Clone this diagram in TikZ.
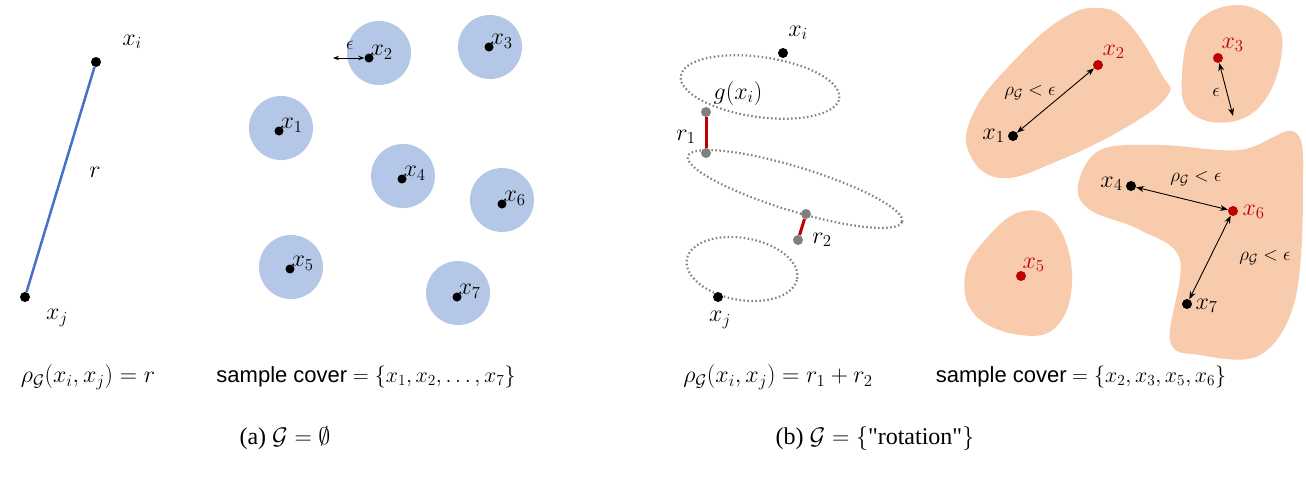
\documentclass[tikz,border=0pt]{standalone}
\usepackage{fix-cm}
\usepackage{fontspec}
\setmainfont{Liberation Serif}
\newfontfamily\sans{Liberation Sans}
\usetikzlibrary{arrows.meta}
\definecolor{cblue}{RGB}{180,199,231}
\definecolor{lblue}{RGB}{68,114,196}
\definecolor{peach}{RGB}{248,203,173}
\definecolor{dred}{RGB}{192,0,0}
\tikzset{
  dot/.style={circle,fill=black,inner sep=0pt,minimum size=10pt},
  rdot/.style={circle,fill=dred,inner sep=0pt,minimum size=10pt},
  gdot/.style={circle,fill=gray,inner sep=0pt,minimum size=10pt},
  ball/.style={circle,fill=cblue,inner sep=0pt,minimum size=64pt},
  lbl/.style={font=\fontsize{24}{28}\selectfont},
  sm/.style={font=\fontsize{19}{22}\selectfont},
  dots/.style={gray,line width=2.2pt,dash pattern=on 1.5pt off 2.5pt},
  da/.style={{Stealth[length=8pt]}-{Stealth[length=8pt]},line width=0.9pt},
  blob/.style={fill=peach},
  txt/.style={font=\fontsize{24}{28}\selectfont},
  stxt/.style={font=\fontsize{22}{26}\selectfont}
}
\begin{document}
\begin{tikzpicture}[x=1pt,y=-1pt]
\useasboundingbox (0,0) rectangle (1306,482);
% left
\node[dot] (xi) at (96,62) {};
\node[dot] (xj) at (25,297) {};
\draw[lblue,line width=2.5pt] (xi) -- (xj);
\node[lbl] (lxi) at (132,42) {$x_i$};
\node[lbl] (lxj) at (57,318) {$x_j$};
\node[lbl] (lr) at (95,172) {$r$};
% balls
\foreach \n/\cx/\cy/\dx/\dy in {1/281/128/279/131, 2/379/53/369/58, 3/490/47/489/47, 4/403/176/402/179, 5/291/267/290/269, 6/502/200/502/204, 7/458/293/457/297}{
  \node[ball] (b\n) at (\cx,\cy) {};
  \node[dot,minimum size=9pt] (p\n) at (\dx,\dy) {};
  \node[lbl,anchor=south west,inner sep=1pt] (l\n) at ([xshift=-3pt,yshift=-6pt]p\n.north east) {$x_{\n}$};
}
\coordinate (ea) at (333,58);
\draw[da,{Stealth[length=6pt]}-{Stealth[length=6pt]}] (ea) -- (p2.west);
\node[sm] (le) at (350,45) {$\epsilon$};
% middle ellipses
\draw[dots,rotate around={-8:(760,87)}] (760,87) ellipse (80pt and 30pt);
\draw[dots,rotate around={-17:(795,189)}] (795,189) ellipse (112pt and 22pt);
\draw[dots,rotate around={-10:(742,269)}] (742,269) ellipse (56pt and 31pt);
\node[dot] (mxi) at (783,53) {};
\node[gdot] (g1) at (706,112) {};
\node[gdot] (g2) at (706,153) {};
\node[gdot] (g3) at (806,214) {};
\node[gdot] (g4) at (798,240) {};
\node[dot] (mxj) at (718,297) {};
\draw[dred,line width=3pt] (g1) -- (g2);
\draw[dred,line width=3pt] (g3) -- (g4);
\node[lbl] (mlxi) at (798,33) {$x_i$};
\node[lbl] (mlg) at (738,93) {$g(x_i)$};
\node[lbl] (mlr1) at (686,137) {$r_1$};
\node[lbl] (mlr2) at (822,240) {$r_2$};
\node[lbl] (mlxj) at (720,320) {$x_j$};
% blobs
\fill[blob] plot[smooth cycle,tension=0.7] coordinates {(968,150) (975,110) (1010,65) (1060,20) (1100,8) (1130,25) (1162,75) (1168,95) (1130,125) (1060,160) (1000,178)};
\fill[blob] plot[smooth cycle,tension=0.7] coordinates {(1182,75) (1195,25) (1235,5) (1272,20) (1282,50) (1265,100) (1230,122) (1190,112)};
\fill[blob] plot[smooth cycle,tension=0.6] coordinates {(1078,185) (1100,150) (1160,145) (1240,150) (1295,132) (1303,190) (1295,300) (1260,355) (1200,355) (1170,340) (1180,260) (1140,230) (1090,210)};
\fill[blob] plot[smooth cycle,tension=0.7] coordinates {(965,275) (985,240) (1020,212) (1055,222) (1072,275) (1058,325) (1020,335) (975,315)};
\node[dot] (r1) at (1013,136) {};
\node[rdot] (r2) at (1098,65) {};
\node[rdot] (r3) at (1218,58) {};
\node[dot] (r4) at (1131,186) {};
\node[rdot] (r5) at (1021,276) {};
\node[rdot] (r6) at (1233,211) {};
\node[dot] (r7) at (1187,304) {};
\node[lbl,anchor=east] (rl1) at (1008,136) {$x_1$};
\node[lbl,anchor=west,dred] (rl2) at (1099,52) {$x_2$};
\node[lbl,anchor=west,dred] (rl3) at (1218,45) {$x_3$};
\node[lbl,anchor=east] (rl4) at (1126,184) {$x_4$};
\node[lbl,anchor=west,dred] (rl5) at (1019,265) {$x_5$};
\node[lbl,anchor=west,dred] (rl6) at (1239,212) {$x_6$};
\node[lbl,anchor=west] (rl7) at (1192,306) {$x_7$};
\coordinate (e3) at (1233,116);
\draw[da] (r1) -- (r2);
\draw[da] (r3) -- (e3);
\draw[da] (r4) -- (r6);
\draw[da] (r6) -- (r7);
\node[sm] (t12) at (1030,93) {$\rho_{\mathcal{G}}<\epsilon$};
\node[sm] (t3) at (1216,92) {$\epsilon$};
\node[sm] (t46) at (1196,179) {$\rho_{\mathcal{G}}<\epsilon$};
\node[sm] (t67) at (1265,258) {$\rho_{\mathcal{G}}<\epsilon$};
% bottom
\node[txt] (f1) at (88,377) {$\rho_{\mathcal{G}}\bigl(x_i,x_j\bigr)=r$};
\node[stxt] (f2) at (366,377) {{\sans sample cover} $=\{x_1,x_2,\ldots,x_7\}$};
\node[txt] (f3) at (778,377) {$\rho_{\mathcal{G}}\bigl(x_i,x_j\bigr)=r_1+r_2$};
\node[stxt] (f4) at (1081,377) {{\sans sample cover} $=\{x_2,x_3,x_5,x_6\}$};
\node[txt] (ca) at (285,438) {(a) $\mathcal{G}=\emptyset$};
\node[txt] (cb) at (875,438) {(b) $\mathcal{G}=\{\hbox{\textquotedbl rotation\textquotedbl}\}$};
\end{tikzpicture}
\end{document}
